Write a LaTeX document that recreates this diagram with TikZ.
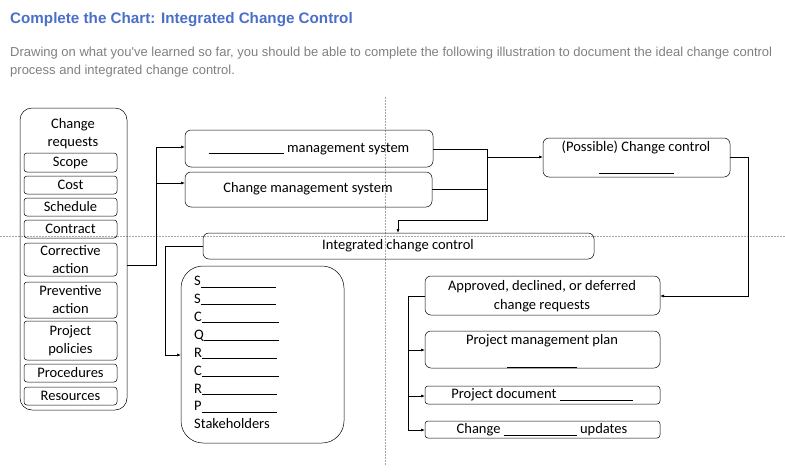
\documentclass[tikz,border=0pt]{standalone}
\usepackage{fontspec}
\setmainfont{Carlito}
\newfontfamily\hel{Liberation Sans}
\usetikzlibrary{arrows.meta}
\definecolor{ttl}{HTML}{4A6FC9}
\newcommand{\blank}[1]{\rule[-1.5pt]{#1pt}{0.6pt}}
\begin{document}
\begin{tikzpicture}[x=1pt,y=-1pt,
 ln/.style={line width=0.6pt},
 ar/.style={ln,-{Latex[length=4pt,width=3pt]}},
 dt/.style={gray!70,dash pattern=on 1.5pt off 1.5pt,line width=0.4pt}]
\useasboundingbox (0,0) rectangle (785,472);
\node[anchor=west,text=ttl,font=\hel\bfseries\fontsize{15.2}{17}\selectfont,inner sep=0pt] (title) at (10,20) {Complete the Chart: Integrated Change Control};
\node[anchor=north west,text=gray,font=\hel\fontsize{13}{18}\selectfont,align=left,inner sep=0pt] (para) at (10,47) {Drawing on what you've learned so far, you should be able to complete the following illustration to document the ideal change control\\process and integrated change control.};
\draw[dt] (385,97) -- (385,465);
\draw[dt] (0,236) -- (785,236);
% left box
\draw[line width=0.5pt,rounded corners=12pt] (20,108) rectangle (127,410);
\node[font=\fontsize{14.5}{18}\selectfont,align=center] (cr) at (73,134) {Change\\requests};
\foreach \n/\t/\a/\b in {sc/Scope/153/172,co/Cost/176/194,sh/Schedule/198/216,ct/Contract/220/238,ca/Corrective\\action/243/276,pa/Preventive\\action/282/318,pp/Project\\policies/321/360,pr/Procedures/364/382,rs/Resources/387/405}{
 \draw[line width=0.5pt,rounded corners=3pt] (24,\a) rectangle (117,\b);
 \node[font=\fontsize{14.5}{18}\selectfont,align=center] (\n) at (70.5,{(\a+\b)/2}) {\t};}
\coordinate (lout) at (127,265);
% boxes
\draw[line width=0.5pt,rounded corners=6pt] (185,130) rectangle (433,167);
\node[font=\fontsize{14.5}{16}\selectfont] (ms) at (309,149) {\blank{75} management system};
\draw[line width=0.5pt,rounded corners=6pt] (185,172) rectangle (432,207);
\node[font=\fontsize{14.5}{16}\selectfont] (cms) at (308,189) {Change management system};
\draw[line width=0.5pt,rounded corners=6pt] (543,138) rectangle (730,177);
\node[font=\fontsize{14.5}{21}\selectfont,align=center] (pcc) at (636,157) {(Possible) Change control\\\blank{75}};
\draw[line width=0.5pt,rounded corners=6pt] (203,233) rectangle (594,259);
\node[font=\fontsize{14.5}{16}\selectfont] (icc) at (398,246) {Integrated change control};
\draw[line width=0.5pt,rounded corners=22pt] (181,266) rectangle (344,443);
\node[font=\fontsize{14.5}{17.9}\selectfont,align=left,anchor=north west,inner sep=0pt] (slist) at (194,276) {S\blank{75}\\S\blank{75}\\C\blank{77}\\Q\blank{75}\\R\blank{75}\\C\blank{77}\\R\blank{75}\\P\blank{75}\\Stakeholders};
\draw[line width=0.5pt,rounded corners=6pt] (425,276) rectangle (660,315);
\node[font=\fontsize{14.5}{19}\selectfont,align=center] (adr) at (542,296) {Approved, declined, or deferred\\change requests};
\draw[line width=0.5pt,rounded corners=6pt] (425,331) rectangle (660,368);
\node[font=\fontsize{14.5}{21}\selectfont,align=center] (pmp) at (542,351) {Project management plan\\\blank{70}};
\draw[line width=0.5pt,rounded corners=3pt] (425,386) rectangle (660,404);
\node[font=\fontsize{14.5}{16}\selectfont] (pd) at (542,395) {Project document \blank{73}};
\draw[line width=0.5pt,rounded corners=3pt] (425,421) rectangle (660,438);
\node[font=\fontsize{14.5}{16}\selectfont] (cu) at (542,430) {Change \blank{73} updates};
% connectors
\draw[ln] (lout) -- (156,265) -- (156,147);
\draw[ar] (156,147) -- (185,147);
\draw[ar] (156,183) -- (185,183);
\draw[ln] (433,149) -- (487,149) -- (487,220) -- (398,220);
\draw[ln] (432,189) -- (487,189);
\draw[ar] (398,220) -- (398,233);
\draw[ar] (487,157) -- (543,157);
\draw[ar] (730,157) -- (748,157) -- (748,296) -- (660,296);
\draw[ar] (203,246) -- (165,246) -- (165,355) -- (181,355);
\draw[ln] (425,296) -- (408,296) -- (408,430);
\draw[ar] (408,350) -- (425,350);
\draw[ar] (408,396) -- (425,396);
\draw[ar] (408,430) -- (425,430);
\end{tikzpicture}
\end{document}
